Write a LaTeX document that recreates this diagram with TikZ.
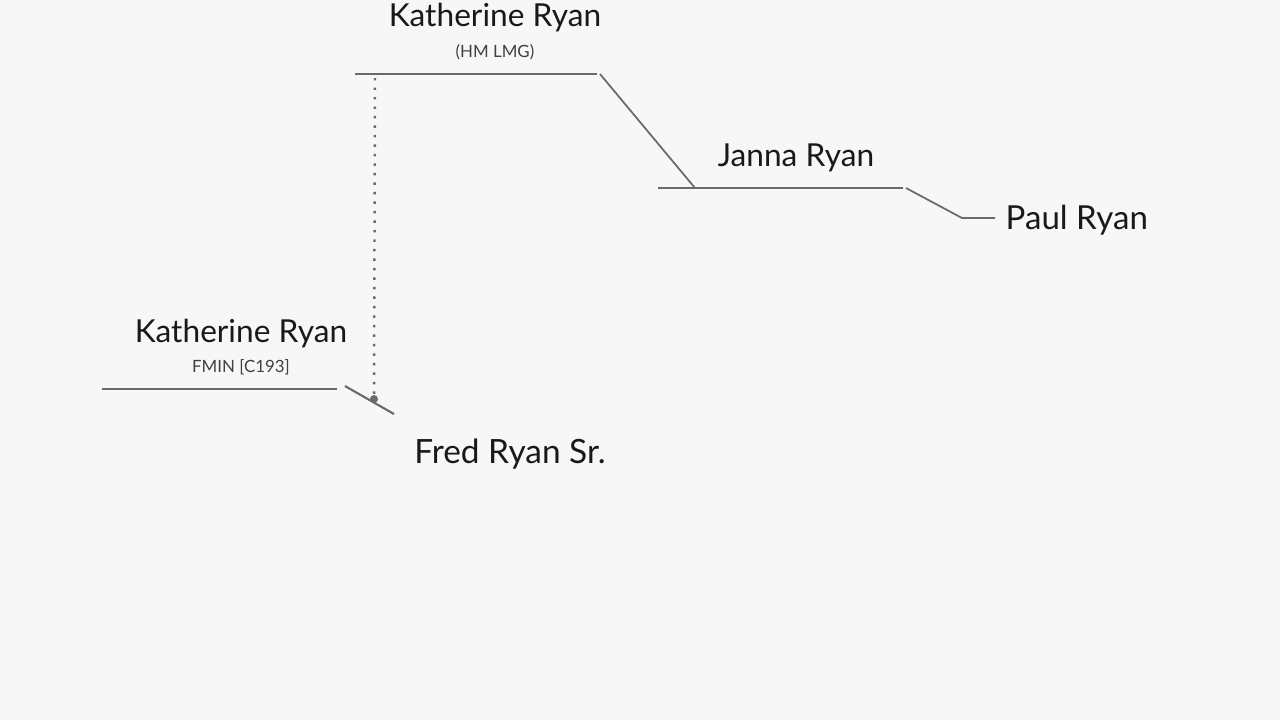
\documentclass[tikz,border=0pt]{standalone}
\usepackage{fontspec}
\setmainfont{Lato}
\usetikzlibrary{positioning}
\definecolor{bgcol}{HTML}{F7F7F7}
\definecolor{linecol}{HTML}{6A6A6A}
\tikzstyle{person} = [inner sep=0pt, text=black!90, font=\fontsize{9}{11}\selectfont]
\tikzstyle{dates} = [inner sep=0pt, text=black!75, font=\fontsize{4.8}{6}\selectfont]
\tikzstyle{bar} = [draw=linecol, line width=0.75pt]
\tikzstyle{link} = [draw=linecol, line width=0.5pt]

\begin{document}
\begin{tikzpicture}[x=0.01cm, y=-0.01cm]
                \fill[bgcol] (0,0) rectangle (1280,720);
                \useasboundingbox (0,0) rectangle (1280,720);
                % top couple
                \node [person] (kat1) at (495,18) {Katherine Ryan};
                \node [dates] (kat1d) at (495,52) {(HM LMG)};
                \coordinate (kat1a) at (355,74);
                \coordinate (kat1b) at (597,74);
                \draw [bar] (kat1a) -- (kat1b);
                % Janna
                \node [person] (janna) at (796,158) {Janna Ryan};
                \coordinate (janna1) at (658,188);
                \coordinate (janna2) at (903,188);
                \coordinate (jannaj) at (695,188);
                \draw [bar] (janna1) -- (janna2);
                \coordinate (kat1c) at (600,74);
                \draw [link] (kat1c) -- (jannaj);
                % Paul
                \node [person, anchor=west, font=\fontsize{9.4}{11}\selectfont] (paul) at (1005,220) {Paul Ryan};
                \coordinate (janna3) at (906,188);
                \coordinate (paulk) at (962,218);
                \coordinate (paule) at (995,218);
                \draw [link] (janna3) -- (paulk) -- (paule);
                % second Katherine
                \node [person] (kat2) at (241,334) {Katherine Ryan};
                \node [dates] (kat2d) at (241,367) {FMIN [C193]};
                \coordinate (kat2a) at (102,389);
                \coordinate (kat2b) at (337,389);
                \draw [bar] (kat2a) -- (kat2b);
                \coordinate (tick1) at (345,386);
                \coordinate (tick2) at (394,414);
                \draw [link, line width=0.6pt] (tick1) -- (tick2);
                % dotted descent
                \coordinate (drop) at (375,78);
                \coordinate (dot) at (374,399);
                \draw [linecol, line width=0.7pt, dotted] (drop) -- (dot);
                \fill [linecol] (dot) circle (4);
                % Fred
                \node [person, font=\fontsize{9.5}{11}\selectfont] (fred) at (510,454) {Fred Ryan Sr.};
            \end{tikzpicture}
\end{document}
